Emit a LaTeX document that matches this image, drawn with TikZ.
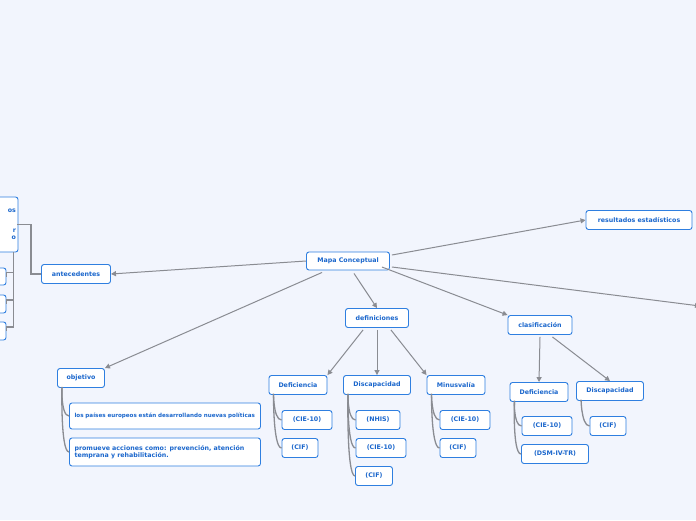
\documentclass[tikz,border=0pt]{standalone}
\usepackage{fontspec}
\setmainfont{DejaVu Sans}
\usetikzlibrary{arrows.meta}
\definecolor{bg}{HTML}{F2F5FD}
\definecolor{bd}{HTML}{2F7FE0}
\definecolor{tx}{HTML}{1A66CC}
\definecolor{ln}{HTML}{8A8C92}
\begin{document}
\begin{tikzpicture}[x=1pt,y=-1pt,
  box/.style={draw=bd,line width=0.9pt,fill=white,rounded corners=2.5pt,text=tx,font=\fontsize{6.3}{7.5}\selectfont\bfseries,inner sep=0pt,align=center},
  arr/.style={draw=ln,line width=1pt,-{Triangle[length=5pt,width=5pt]}},
  tree/.style={draw=ln,line width=1.3pt}]
\fill[bg] (0,0) rectangle (696,520);
\useasboundingbox (0,0) rectangle (696,520);
\begin{scope}
\clip (0,0) rectangle (696,520);
\node[box,minimum width=83,minimum height=18] (mc) at (348,261) {Mapa Conceptual};
\node[box,minimum width=106,minimum height=19] (re) at (639,220) {resultados estadísticos};
\node[box,minimum width=69,minimum height=19] (an) at (76,274) {antecedentes};
\node[box,minimum width=63,minimum height=19] (de) at (377,318) {definiciones};
\node[box,minimum width=64,minimum height=19] (cl) at (540,325) {clasificación};
\node[box,minimum width=47,minimum height=19] (ob) at (81,378) {objetivo};
\node[box,minimum width=191,minimum height=26,align=left,text width=181,font=\fontsize{5.6}{7}\selectfont\bfseries] (o1) at (165,416) {los países europeos están desarrollando nuevas políticas};
\node[box,minimum width=191,minimum height=28,align=left,text width=181] (o2) at (165,452) {promueve acciones como: prevención, atención temprana y rehabilitación.};
\node[box,minimum width=58,minimum height=19] (d1) at (298,385) {Deficiencia};
\node[box,minimum width=67,minimum height=19] (d2) at (377,385) {Discapacidad};
\node[box,minimum width=58,minimum height=19] (d3) at (456,385) {Minusvalía};
\node[box,minimum width=50,minimum height=19] (d1a) at (307,420) {(CIE-10)};
\node[box,minimum width=36,minimum height=19] (d1b) at (300,448) {(CIF)};
\node[box,minimum width=44,minimum height=19] (d2a) at (378,420) {(NHIS)};
\node[box,minimum width=50,minimum height=19] (d2b) at (381,448) {(CIE-10)};
\node[box,minimum width=37,minimum height=19] (d2c) at (374,476) {(CIF)};
\node[box,minimum width=50,minimum height=19] (d3a) at (465,420) {(CIE-10)};
\node[box,minimum width=36,minimum height=19] (d3b) at (458,448) {(CIF)};
\node[box,minimum width=58,minimum height=19] (c1) at (539,392) {Deficiencia};
\node[box,minimum width=67,minimum height=19] (c2) at (610,391) {Discapacidad};
\node[box,minimum width=50,minimum height=19] (c1a) at (547,426) {(CIE-10)};
\node[box,minimum width=67,minimum height=19] (c1b) at (555,454) {(DSM-IV-TR)};
\node[box,minimum width=36,minimum height=19] (c2a) at (608,426) {(CIF)};
% left cut-off boxes
\node[box,minimum width=38,minimum height=55,align=right,text width=34] (lb) at (-1,224.5) {os\\[12pt]r\\o};
\node[box,minimum width=26,minimum height=17] (l1) at (-7,276.5) {};
\node[box,minimum width=26,minimum height=18] (l2) at (-7,304) {};
\node[box,minimum width=26,minimum height=18] (l3) at (-7,331) {};
\coordinate (off) at (700,306);
% arrows
\draw[arr] (mc.east) ++(2,-6) -- (re.west);
\draw[arr] (mc.west) -- (an.east);
\draw[arr] (mc.south) ++(6,3) -- (de.north);
\draw[arr] (mc.east) ++(-8,6) -- (cl.north west);
\draw[arr] (mc.south west) ++(16,2) -- (ob.north east);
\draw[arr] (mc.east) ++(2,6) -- (off);
\draw[arr] (de.south west) ++(18,2) -- (d1.north east);
\draw[arr] (de.south) ++(0,2) -- (d2.north);
\draw[arr] (de.south east) ++(-18,2) -- (d3.north west);
\draw[arr] (cl.south) ++(0,2) -- (c1.north);
\draw[arr] (cl.south east) ++(-20,2) -- (c2.north);
% tree connectors
\draw[tree] (an.west) -- ++(-10,0) coordinate (t) |- ([xshift=-1]lb.east);
\foreach \c in {l1,l2,l3}{\draw[tree] ([xshift=-5]lb.south east) |- ([yshift=4]\c.east) -- (\c.east);}
\foreach \p/\c in {ob/o1,ob/o2,d1/d1a,d1/d1b,d2/d2a,d2/d2b,d2/d2c,d3/d3a,d3/d3b,c1/c1a,c1/c1b,c2/c2a}{
  \draw[tree] ([xshift=5]\p.south west) .. controls ([xshift=5,yshift=8]\p.south west) and ([xshift=-9]\c.west) .. (\c.west);}
\end{scope}
\end{tikzpicture}
\end{document}
